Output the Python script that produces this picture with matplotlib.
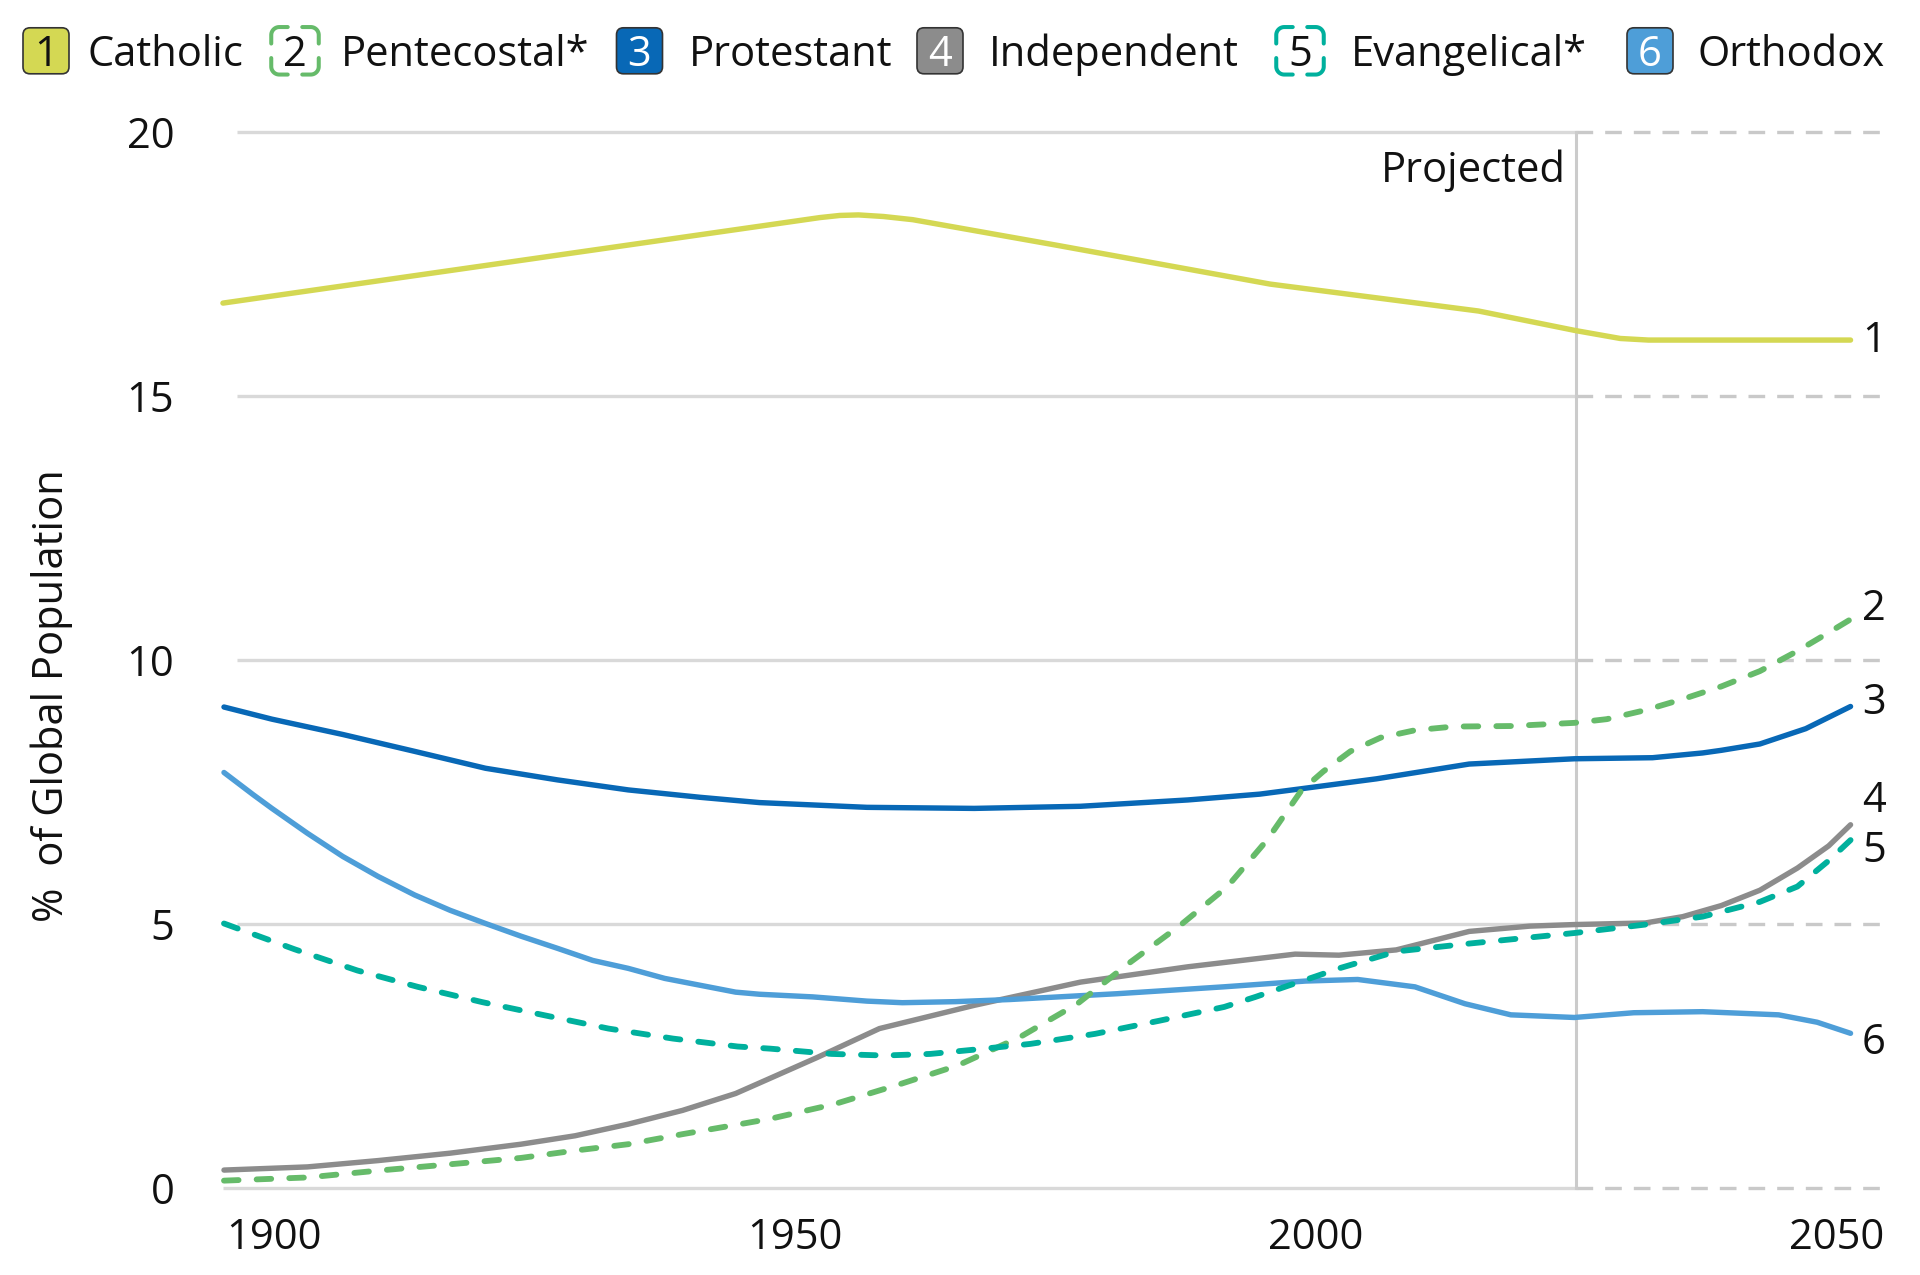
import matplotlib
matplotlib.use("Agg")
import matplotlib.pyplot as plt
import numpy as np
from matplotlib.patches import FancyBboxPatch

plt.rcParams['font.family'] = ['Open Sans', 'DejaVu Sans']

# ---------------- data ----------------
catholic_years = [1895.1, 1952.4, 1954.3, 1956.1, 1958.5, 1961.3, 1975.0, 1995.6,
                  2015.6, 2024.9, 2029.2, 2031.9, 2051.3]
catholic_vals = [16.75, 18.37, 18.41, 18.42, 18.39, 18.33, 17.85, 17.11,
                 16.60, 16.23, 16.08, 16.05, 16.05]

pentecostal_years = [1895.2, 1903.2, 1910.0, 1916.9, 1923.7, 1928.9, 1934.0, 1939.2,
                     1945.3, 1947.6, 1953.8, 1959.8, 1965.6, 1971.6, 1977.1, 1982.2,
                     1987.0, 1991.5, 1995.3, 1998.6, 2000.7, 2003.3, 2006.2, 2009.5,
                     2013.2, 2018.7, 2024.8, 2027.9, 2031.6, 2035.2, 2038.9, 2042.6,
                     2046.2, 2049.2, 2051.3]
pentecostal_vals = [0.13, 0.19, 0.32, 0.44, 0.56, 0.70, 0.82, 1.01,
                    1.22, 1.30, 1.58, 1.94, 2.31, 2.85, 3.48, 4.27,
                    4.97, 5.70, 6.58, 7.52, 7.88, 8.26, 8.52, 8.66,
                    8.73, 8.74, 8.80, 8.87, 9.04, 9.25, 9.49, 9.78,
                    10.16, 10.51, 10.76]

protestant_years = [1895.2, 1899.8, 1906.6, 1913.5, 1920.3, 1927.2, 1934.0, 1940.9,
                    1946.6, 1956.9, 1967.2, 1977.4, 1987.7, 1994.6, 1998.5, 2005.8,
                    2014.7, 2024.8, 2032.3, 2037.1, 2038.9, 2042.6, 2047.0, 2051.3]
protestant_vals = [9.10, 8.87, 8.58, 8.26, 7.94, 7.72, 7.53, 7.39,
                   7.29, 7.20, 7.18, 7.22, 7.34, 7.45, 7.55, 7.74,
                   8.02, 8.12, 8.14, 8.23, 8.28, 8.40, 8.69, 9.11]

independent_years = [1895.2, 1903.2, 1910.0, 1916.9, 1923.7, 1928.9, 1934.0, 1939.2,
                     1944.3, 1946.6, 1952.1, 1958.1, 1967.2, 1977.4, 1987.7, 1998.0,
                     2002.2, 2007.7, 2014.7, 2020.5, 2024.8, 2031.6, 2035.2, 2038.9,
                     2042.6, 2046.2, 2049.2, 2051.3]
independent_vals = [0.33, 0.39, 0.51, 0.65, 0.82, 0.98, 1.20, 1.46,
                    1.78, 1.98, 2.46, 3.01, 3.45, 3.89, 4.18, 4.42,
                    4.40, 4.50, 4.85, 4.95, 4.98, 5.01, 5.13, 5.34,
                    5.63, 6.05, 6.47, 6.87]

evangelical_years = [1895.2, 1902.0, 1908.0, 1913.8, 1920.0, 1926.0, 1932.1, 1938.3,
                     1944.5, 1947.6, 1953.5, 1958.6, 1963.0, 1968.2, 1972.6, 1978.8,
                     1985.0, 1991.2, 1994.2, 1997.3, 2000.0, 2002.2, 2007.7, 2014.7,
                     2024.8, 2031.6, 2037.1, 2042.6, 2046.2, 2049.2, 2051.3]
evangelical_vals = [5.00, 4.51, 4.11, 3.80, 3.51, 3.26, 3.01, 2.82,
                    2.67, 2.63, 2.53, 2.50, 2.53, 2.63, 2.72, 2.91,
                    3.16, 3.42, 3.61, 3.82, 4.00, 4.15, 4.47, 4.62,
                    4.82, 4.98, 5.13, 5.41, 5.70, 6.19, 6.58]

orthodox_years = [1895.2, 1898.0, 1899.8, 1903.2, 1906.6, 1910.0, 1913.5, 1916.9,
                  1920.3, 1923.7, 1927.2, 1930.6, 1934.0, 1937.5, 1940.9, 1944.3,
                  1946.6, 1951.7, 1956.9, 1960.3, 1965.4, 1970.6, 1980.9, 1991.1,
                  1999.0, 2004.0, 2009.5, 2014.3, 2018.7, 2024.8, 2030.5, 2037.1,
                  2044.4, 2048.1, 2051.3]
orthodox_vals = [7.86, 7.44, 7.18, 6.71, 6.27, 5.89, 5.54, 5.25,
                 5.00, 4.76, 4.53, 4.30, 4.15, 3.96, 3.83, 3.70,
                 3.66, 3.61, 3.53, 3.50, 3.52, 3.56, 3.67, 3.80,
                 3.91, 3.94, 3.80, 3.48, 3.27, 3.22, 3.31, 3.33,
                 3.27, 3.13, 2.92]

series_names = ["Catholic", "Pentecostal*", "Protestant", "Independent", "Evangelical*", "Orthodox"]
series_colors = ["#d4d853", "#66bb6a", "#0868b6", "#8c8c8c", "#00b09d", "#4e9ed8"]
series_dashed = [False, True, False, False, True, False]
series_years = [catholic_years, pentecostal_years, protestant_years,
                independent_years, evangelical_years, orthodox_years]
series_vals = [catholic_vals, pentecostal_vals, protestant_vals,
               independent_vals, evangelical_vals, orthodox_vals]
end_label_offsets = [-0.22, -0.01, -0.15, 0.24, -0.42, -0.40]

x_ticks = [1900, 1950, 2000, 2050]
y_ticks = [0, 5, 10, 15, 20]
projection_start = 2025

# ---------------- layout ----------------
W, H, DPI = 1920, 1275, 100
X1900, PX_YEAR = 274.0, 10.42      # pixel x of 1900, pixels per year
Y0, PX_UNIT = 1187.5, 52.8         # pixel y of value 0, pixels per unit
AX_L, AX_R, AX_T, AX_B = 200, 1900, 100, 1200
FS = 30


def px2year(x):
    return 1900 + (x - X1900) / PX_YEAR


def px2val(y):
    return (Y0 - y) / PX_UNIT


fig = plt.figure(figsize=(W / DPI, H / DPI), dpi=DPI)
ax = fig.add_axes([AX_L / W, 1 - AX_B / H, (AX_R - AX_L) / W, (AX_B - AX_T) / H])
ax.set_xlim(px2year(AX_L), px2year(AX_R))
ax.set_ylim(px2val(AX_B), px2val(AX_T))
for s in ax.spines.values():
    s.set_visible(False)
ax.patch.set_alpha(0)

# grid lines: solid up to projection, dashed after
grid_start = px2year(237)
grid_end = px2year(1883)
for v in y_ticks:
    gs = px2year(223) if v == 0 else grid_start
    ax.plot([gs, projection_start], [v, v], color="#d9d9d9", lw=2.4,
            solid_capstyle="butt", zorder=1)
    ax.plot([projection_start, grid_end], [v, v], color="#c9c9c9", lw=2.4,
            linestyle=(0, (5.0, 3.6)), dash_capstyle="butt", zorder=1)
ax.plot([projection_start, projection_start], [0, 20], color="#cbcbcb", lw=2.2, zorder=1)

ax.text(px2year(1566), px2val(181.7), "Projected", ha="right", va="baseline",
        fontsize=FS, color="#111111")

# data lines: solid first, dashed on top
order = [i for i in range(6) if not series_dashed[i]] + [i for i in range(6) if series_dashed[i]]
for i in order:
    if series_dashed[i]:
        ax.plot(series_years[i], series_vals[i], color=series_colors[i], lw=4.2,
                linestyle=(0, (2.5, 3.1)), dash_capstyle="round",
                dash_joinstyle="round", zorder=3)
    else:
        ax.plot(series_years[i], series_vals[i], color=series_colors[i], lw=3.9,
                solid_capstyle="round", solid_joinstyle="round", zorder=2)

# end labels
for i in range(6):
    ax.text(px2year(1862), series_vals[i][-1] + end_label_offsets[i], str(i + 1),
            ha="left", va="baseline", fontsize=FS, color="#111111")

# ticks
ax.set_xticks(x_ticks)
ax.set_xticklabels([str(t) for t in x_ticks])
ax.set_yticks(y_ticks)
ax.set_yticklabels([str(t) for t in y_ticks])
ax.tick_params(axis="both", length=0, labelsize=FS, colors="#111111")
ax.tick_params(axis="x", pad=12)
ax.tick_params(axis="y", pad=18.5)

fig.text(52 / W, 1 - 696 / H, "%  of Global Population", rotation=90,
         ha="center", va="center", fontsize=FS, color="#111111")

# ---------------- legend (pixel overlay) ----------------
lax = fig.add_axes([0, 0, 1, 1])
lax.set_xlim(0, W)
lax.set_ylim(H, 0)
lax.axis("off")

badge_cx = [46, 295, 639.5, 940, 1300, 1650]
text_x = [87, 341, 689, 989, 1351, 1697]
badge_cy = 50.8
baseline = 66.0
digit_colors = ["#111111", "#111111", "#ffffff", "#ffffff", "#111111", "#ffffff"]


def corner_brackets(cx, cy, s, r, L, color, lw):
    h = s / 2
    t = np.linspace(0, np.pi / 2, 14)
    for sx in (-1, 1):
        for sy in (-1, 1):
            arc_x = cx + sx * (h - r) + sx * r * np.cos(t)
            arc_y = cy + sy * (h - r) + sy * r * np.sin(t)
            xs = np.concatenate([[cx + sx * h], arc_x, [cx + sx * (h - L)]])
            ys = np.concatenate([[cy + sy * (h - L)], arc_y, [cy + sy * h]])
            lax.plot(xs, ys, color=color, lw=lw, solid_capstyle="round",
                     solid_joinstyle="round")


for i in range(6):
    cx = badge_cx[i]
    if series_dashed[i]:
        corner_brackets(cx, badge_cy, 47.5, 8, 16.5, series_colors[i], 2.9)
    else:
        s = 46
        p = FancyBboxPatch((cx - s / 2, badge_cy - s / 2), s, s,
                           boxstyle="round,pad=0,rounding_size=7",
                           facecolor=series_colors[i], edgecolor="#333333", lw=1.2)
        lax.add_patch(p)
    lax.text(cx, baseline, str(i + 1), ha="center", va="baseline", fontsize=FS,
             color=digit_colors[i])
    lax.text(text_x[i], baseline, series_names[i], ha="left", va="baseline",
             fontsize=FS, color="#111111")

fig.savefig("out.png", dpi=DPI)
